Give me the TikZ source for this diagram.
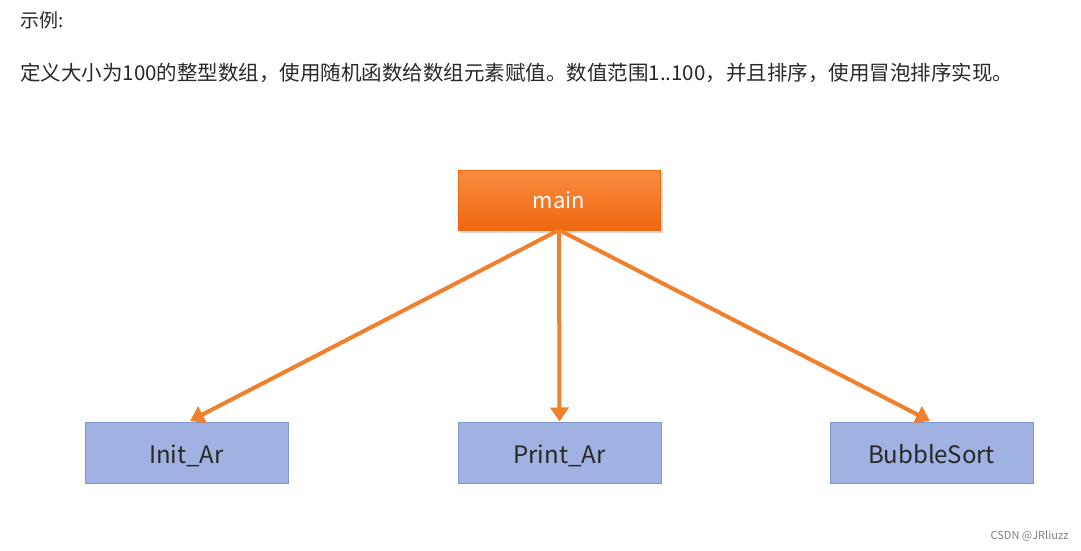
\documentclass[tikz,border=0pt]{standalone}
\usepackage{fontspec}
\setmainfont{Noto Sans CJK SC}
\usetikzlibrary{arrows.meta,shadows}
\definecolor{orangetop}{RGB}{250,140,64}
\definecolor{orangebot}{RGB}{238,104,16}
\definecolor{arrowor}{RGB}{240,128,44}
\definecolor{boxblue}{RGB}{160,178,226}
\definecolor{boxline}{RGB}{128,152,208}
\definecolor{txtgray}{RGB}{40,40,40}
\tikzset{
  mainbox/.style={minimum width=202pt,minimum height=60pt,top color=orangetop,bottom color=orangebot,
    draw=orangebot,text=white,font=\fontsize{22}{26}\selectfont,text height=18pt,text depth=2pt,
    drop shadow={opacity=0.3}},
  funcbox/.style={minimum width=203pt,minimum height=61pt,fill=boxblue,draw=boxline,line width=1pt,
    text=txtgray,font=\fontsize{24}{28}\selectfont,text height=22pt,text depth=1pt},
  callarrow/.style={draw=arrowor,line width=4pt,-{Triangle[length=14pt,width=18pt]}}
}
\begin{document}
\begin{tikzpicture}[x=1pt,y=-1pt]
\useasboundingbox[fill=white] (0,0) rectangle (1081,551);
% heading text
\node[anchor=west,text=txtgray,font=\fontsize{19}{22}\selectfont] (title) at (17,20) {示例:};
\node[anchor=west,text=txtgray,font=\fontsize{20.5}{24}\selectfont,inner xsep=0pt] (task) at (20,73)
  {定义大小为100的整型数组，使用随机函数给数组元素赋值。数值范围1..100，并且排序，使用冒泡排序实现。};
% boxes
\node[mainbox] (main) at (559,200) {main};
\node[funcbox] (init) at (186.5,452.5) {Init\_Ar};
\node[funcbox] (print) at (559.5,452.5) {Print\_Ar};
\node[funcbox] (bubble) at (931.5,452.5) {BubbleSort};
% calls
\coordinate (src) at (559,230);
\draw[callarrow] (src) -- (190,421);
\draw[callarrow] (src) -- (print.north);
\draw[callarrow] (src) -- (930,421);
% watermark
\node[anchor=east,text=gray,font=\fontsize{11}{13}\selectfont] (mark) at (1072,536) {CSDN @JRliuzz};
\end{tikzpicture}
\end{document}
